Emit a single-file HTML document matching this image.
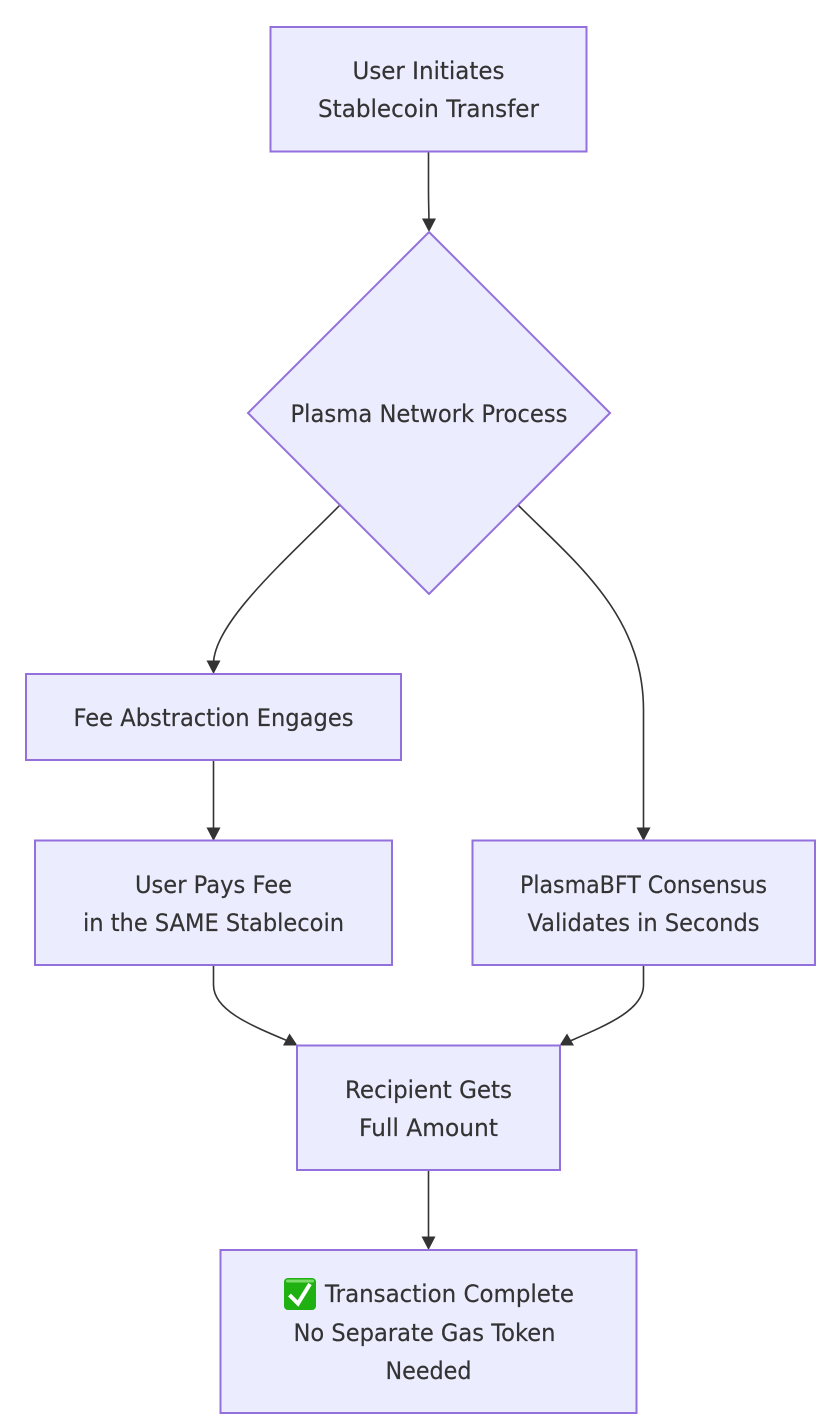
<!DOCTYPE html>
<html><head><meta charset="utf-8"><style>
html,body{margin:0;padding:0;background:#fff}
svg{display:block;filter:blur(.35px)}
text{font-family:"DejaVu Sans",sans-serif;font-size:24px;fill:#333;text-anchor:middle;stroke:#333;stroke-width:.2px}
.n{fill:#ececff;stroke:#9370db;stroke-width:2}
.e{fill:none;stroke:#333;stroke-width:1.6}
.a{fill:#333}
</style></head><body>
<svg width="828" height="1427" viewBox="0 0 828 1427" xmlns="http://www.w3.org/2000/svg">
<path class="e" d="M428.500 152V190C428.500 205 429 212 429 226"/>
<path class="e" d="M340 505C290 556 213.500 622 213.500 664"/>
<path class="e" d="M518 505C575 562 643.500 615 643.500 710V832"/>
<path class="e" d="M213.500 760V832"/>
<path class="e" d="M213.500 965V985C213.500 1010 250 1025 288 1041"/>
<path class="e" d="M643.500 965V985C643.500 1010 607 1025 570 1041"/>
<path class="e" d="M428.500 1170V1242"/>
<path class="a" d="M422 218.500H436L429 232Z"/>
<path class="a" d="M206.500 660.500H220.500L213.500 674Z"/>
<path class="a" d="M636.500 827.500H650.500L643.500 841Z"/>
<path class="a" d="M206.500 827.500H220.500L213.500 841Z"/>
<path class="a" d="M421.500 1236.500H435.500L428.500 1250Z"/>
<path class="a" d="M283 1045.500H297.500L289.500 1033.500Z"/>
<path class="a" d="M559.500 1045.500H574L567 1033.500Z"/>
<rect class="n" x="270.500" y="27" width="316" height="124.500"/>
<polygon class="n" points="429,232 610,413 429,594 248,413"/>
<rect class="n" x="26" y="674" width="375" height="86"/>
<rect class="n" x="35" y="840.500" width="357" height="124.500"/>
<rect class="n" x="472.500" y="840.500" width="342.500" height="124.500"/>
<rect class="n" x="297" y="1045.500" width="263" height="124.500"/>
<rect class="n" x="220.500" y="1250" width="416" height="163"/>
<text x="428.500" y="79" textLength="152" lengthAdjust="spacingAndGlyphs">User Initiates</text>
<text x="428.500" y="117" textLength="221" lengthAdjust="spacingAndGlyphs">Stablecoin Transfer</text>
<text x="429" y="422" textLength="277" lengthAdjust="spacingAndGlyphs">Plasma Network Process</text>
<text x="213.500" y="726" textLength="280" lengthAdjust="spacingAndGlyphs">Fee Abstraction Engages</text>
<text x="213.500" y="893" textLength="157" lengthAdjust="spacingAndGlyphs">User Pays Fee</text>
<text x="213.500" y="931" textLength="261" lengthAdjust="spacingAndGlyphs">in the SAME Stablecoin</text>
<text x="643.500" y="893" textLength="247" lengthAdjust="spacingAndGlyphs">PlasmaBFT Consensus</text>
<text x="643.500" y="931" textLength="232" lengthAdjust="spacingAndGlyphs">Validates in Seconds</text>
<text x="428.500" y="1098" textLength="167" lengthAdjust="spacingAndGlyphs">Recipient Gets</text>
<text x="428.500" y="1136" textLength="139" lengthAdjust="spacingAndGlyphs">Full Amount</text>
<rect x="284" y="1278" width="32" height="32" rx="4" fill="#1fb011"/>
<rect x="286" y="1279.500" width="28" height="3" rx="1.500" fill="#7bdc6c"/>
<path d="M289.500 1295L298 1303.500L310 1284" fill="none" stroke="#fff" stroke-width="4"/>
<text x="449.500" y="1302" textLength="249" lengthAdjust="spacingAndGlyphs">Transaction Complete</text>
<text x="424.500" y="1341" textLength="262" lengthAdjust="spacingAndGlyphs">No Separate Gas Token</text>
<text x="428.500" y="1379" textLength="86" lengthAdjust="spacingAndGlyphs">Needed</text>
</svg>
</body></html>
